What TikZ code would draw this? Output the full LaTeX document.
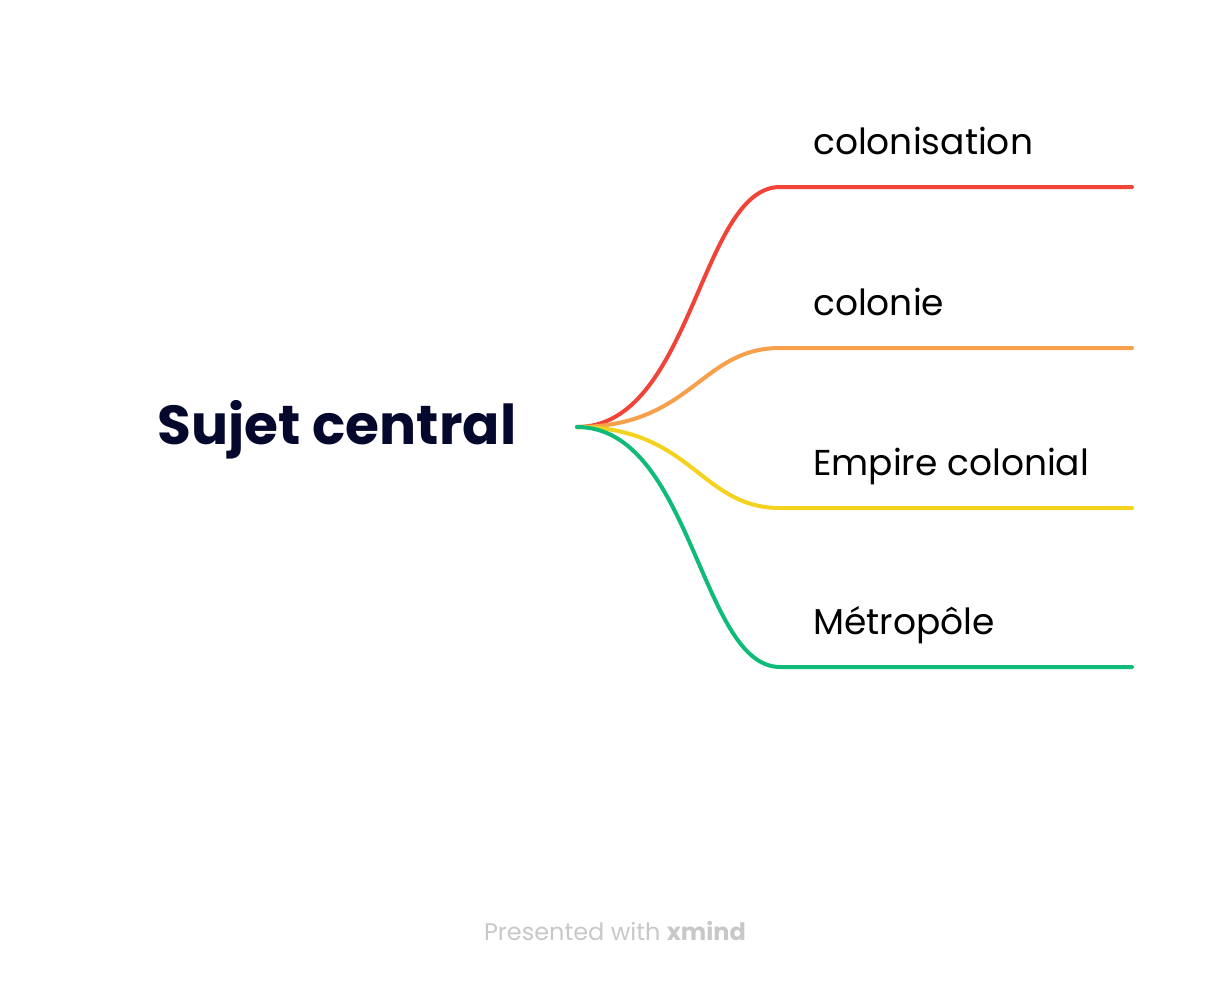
\documentclass[tikz,border=0pt]{standalone}
\usepackage{fontspec}
\setmainfont{Poppins}
\usepackage{tikz}

\definecolor{topicnavy}{RGB}{5,8,45}
\definecolor{branchred}{RGB}{242,67,56}
\definecolor{branchorange}{RGB}{246,160,75}
\definecolor{branchyellow}{RGB}{244,210,30}
\definecolor{branchgreen}{RGB}{14,187,120}
\definecolor{footgrey}{RGB}{200,200,200}

\begin{document}
\begin{tikzpicture}[x=1pt, y=-1pt,
    topic/.style={inner sep=0pt, text=topicnavy, font=\fontsize{55}{66}\selectfont\bfseries},
    sublabel/.style={inner sep=0pt, anchor=base west, text=black, font=\fontsize{36}{44}\selectfont},
    footer/.style={inner sep=0pt, text=footgrey, font=\fontsize{24}{30}\selectfont},
    branch/.style={line width=4pt, line cap=round}]
    \useasboundingbox (0,0) rectangle (1232,982);

    % Central topic
    \node[topic] (central) at (337,430) {Sujet central};
    \coordinate (hub) at (577,427);

    % Branches and their labels
    \foreach \i/\y/\c/\t in {1/187/branchred/colonisation,
                             2/348/branchorange/colonie,
                             3/508/branchyellow/Empire colonial,
                             4/667/branchgreen/Métropôle} {
        \coordinate (b\i) at (780,\y);
        \coordinate (e\i) at (1132,\y);
        \draw[branch, \c] (hub) .. controls +(115,0) and +(-80,0) .. (b\i) -- (e\i);
        \node[sublabel] (lab\i) at (813,\y-33) {\t};
    }

    % Credit line
    \node[footer] (credit) at (615,931) {Presented with \textbf{xmind}};
\end{tikzpicture}
\end{document}
